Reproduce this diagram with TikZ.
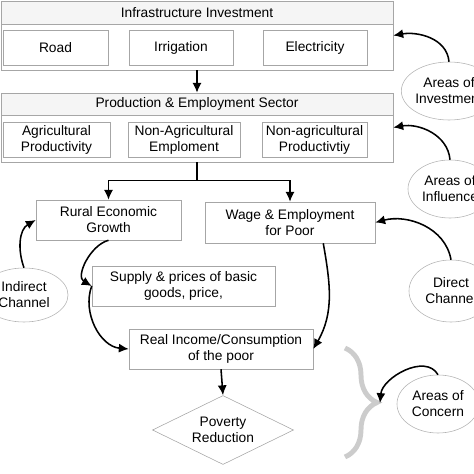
\documentclass[tikz,border=0pt]{standalone}
\usepackage{fontspec}
\setmainfont{Liberation Sans}
\usetikzlibrary{arrows.meta, shapes.geometric, decorations.pathreplacing}

\begin{document}
\begin{tikzpicture}[x=0.025cm, y=0.025cm,
    box/.style={draw=gray!70, rectangle, align=center, inner sep=0pt, font=\fontsize{9.8}{11.3}\selectfont},
    head/.style={box, fill=gray!8},
    oval/.style={draw=gray!60, ellipse, align=center, inner sep=0pt, font=\fontsize{9.8}{11.3}\selectfont},
    arr/.style={-{Latex[length=7pt, width=6.5pt]}, line width=1.1pt}]
    \useasboundingbox (0, 0) rectangle (474, 474);
    \clip (0, 0) rectangle (474, 474);

    \node[box, minimum width=9.8cm, minimum height=1.725cm] (infraBox) at (197, 438.5) {};
    \node[head, minimum width=9.8cm, minimum height=0.575cm] (infraHead) at (197, 461.5) {Infrastructure Investment};
    \node[box, minimum width=2.625cm, minimum height=0.875cm] (road) at (55.5, 426.5) {Road};
    \node[box, minimum width=2.6cm, minimum height=0.875cm] (irrigation) at (181, 426.5) {Irrigation};
    \node[box, minimum width=2.6cm, minimum height=0.875cm] (electricity) at (315, 426.5) {Electricity};

    \node[box, minimum width=9.8cm, minimum height=1.725cm] (prodBox) at (197, 346.5) {};
    \node[head, minimum width=9.8cm, minimum height=0.55cm] (prodHead) at (197, 370) {Production \& Employment Sector};
    \node[box, minimum width=2.675cm, minimum height=0.875cm] (agri) at (56.5, 334.5) {Agricultural\\Productivity};
    \node[box, minimum width=2.8cm, minimum height=0.875cm] (nonAgriEmp) at (184, 334.5) {Non-Agricultural\\Emploment};
    \node[box, minimum width=2.625cm, minimum height=0.875cm] (nonAgriProd) at (314.5, 334.5) {Non-agricultural\\Productivtiy};

    \node[box, minimum width=3.625cm, minimum height=1cm] (rural) at (108.5, 254) {Rural Economic\\Growth};
    \node[box, minimum width=4.25cm, minimum height=1.025cm] (wage) at (290, 251.5) {Wage \& Employment\\for Poor};
    \node[box, minimum width=4.575cm, minimum height=1cm] (supply) at (183.5, 188) {Supply \& prices of basic\\goods, price,};
    \node[box, minimum width=4.6cm, minimum height=1cm] (realInc) at (221, 125) {Real Income/Consumption\\of the poor};
    \node[box, diamond, aspect=2, minimum width=3.525cm, minimum height=1.725cm] (poverty) at (223, 44) {Poverty\\Reduction};

    \node[oval, minimum width=2.1cm, minimum height=1.45cm] (invest) at (449, 383) {Areas of\\Investment};
    \node[oval, minimum width=2.1cm, minimum height=1.45cm] (influence) at (450, 285) {Areas of\\Influence};
    \node[oval, minimum width=2.1cm, minimum height=1.55cm] (direct) at (451, 183) {Direct\\Channel};
    \node[oval, minimum width=2.2cm, minimum height=1.35cm] (indirect) at (24, 179) {Indirect\\Channel};
    \node[oval, minimum width=2.05cm, minimum height=1.45cm] (concern) at (438, 70) {Areas of\\Concern};

    \draw[gray!40, line width=3.5pt, decorate, decoration={brace, amplitude=0.8cm}] (345, 126) -- (345, 17);
    \coordinate (braceTip) at (380, 71);

    \draw[arr] (infraBox.south) -- (prodHead.north);
    \draw[line width=1.1pt] (prodBox.south) -- ++(0, -18) coordinate (fork);
    \draw[arr] (fork) -| (rural.north);
    \draw[arr] (fork) -| (wage.north);
    \draw[arr] (rural.south) to[out=195, in=150] (supply.west);
    \draw[arr] (supply.west) to[out=250, in=175] (realInc.west);
    \draw[arr] (wage.-32) to[out=-80, in=60] (realInc.east);
    \draw[arr] (realInc.south) -- (poverty.north);

    \draw[arr] (invest.north) to[out=95, in=10] (infraBox.east);
    \draw[arr] (influence.north) to[out=95, in=10] (prodBox.east);
    \draw[arr] (direct.north) to[out=100, in=15] (wage.east);
    \draw[arr] (indirect.north) to[out=110, in=210] (rural.west);
    \draw[arr] (concern.north) to[out=120, in=85] (braceTip);
\end{tikzpicture}
\end{document}
